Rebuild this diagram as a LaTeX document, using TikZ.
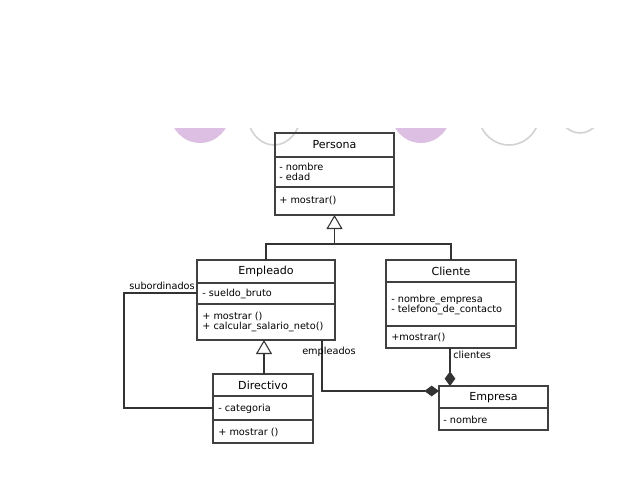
\documentclass[tikz,border=0pt]{standalone}
\usepackage{fontspec}
\setmainfont{DejaVu Sans}
\usetikzlibrary{arrows.meta}
\begin{document}
\begin{tikzpicture}[x=0.75pt,y=-0.75pt,
  box/.style={draw=black!75,line width=0.8pt,anchor=north west,inner sep=0,outer sep=0},
  ttl/.style={font=\fontsize{8.3}{10}\selectfont,anchor=center},
  txt/.style={font=\fontsize{7.3}{9}\selectfont,anchor=west,align=left,inner sep=0},
  lbl/.style={font=\fontsize{7.3}{9}\selectfont,inner sep=0},
  sep/.style={draw=black!75,line width=0.8pt},
  con/.style={draw=black!80,line width=0.8pt},
  gen/.style={con,-{Triangle[open,length=10.5pt,width=12pt]}},
  comp/.style={con,-{Diamond[length=11pt,width=8pt]}}]
\useasboundingbox (0,0) rectangle (638,478);
\fill[white] (0,0) rectangle (638,478);
\begin{scope}
\clip (0,128) rectangle (638,478);
\fill[blue!55!red!25] (200,112) ellipse (30 and 31);
\draw[gray!35,line width=1.2pt] (274,112) ellipse (27 and 33);
\fill[blue!55!red!25] (421,112) ellipse (30 and 31);
\draw[gray!35,line width=1.2pt] (509,112) ellipse (31 and 33);
\draw[gray!35,line width=1.2pt] (580,100) ellipse (25 and 33);
\end{scope}
% Persona
\node[box,minimum width=89.25pt,minimum height=61.5pt] (persona) at (275,133) {};
\node[ttl] at (334.5,145) {Persona};
\draw[sep] (275,157) -- (394,157); \draw[sep] (275,187) -- (394,187);
\node[txt] at (279,171.5) {- nombre\\[-1.5pt]- edad};
\node[txt] at (279,200) {+ mostrar()};
% Empleado
\node[box,minimum width=103.5pt,minimum height=60pt] (empleado) at (197,260) {};
\node[ttl] at (266,271) {Empleado};
\draw[sep] (197,283) -- (335,283); \draw[sep] (197,304) -- (335,304);
\node[txt] at (202,294) {- sueldo\_bruto};
\node[txt] at (202,322) {+ mostrar ()\\[-1.5pt]+ calcular\_salario\_neto()};
% Cliente
\node[box,minimum width=97.5pt,minimum height=66pt] (cliente) at (386,260) {};
\node[ttl] at (451,271) {Cliente};
\draw[sep] (386,282) -- (516,282); \draw[sep] (386,326) -- (516,326);
\node[txt] at (391,305) {- nombre\_empresa\\[-1.5pt]- telefono\_de\_contacto};
\node[txt] at (391,337.5) {+mostrar()};
% Directivo
\node[box,minimum width=75pt,minimum height=51.75pt] (directivo) at (213,374) {};
\node[ttl] at (263,385.5) {Directivo};
\draw[sep] (213,396) -- (313,396); \draw[sep] (213,420) -- (313,420);
\node[txt] at (218,408.5) {- categoria};
\node[txt] at (218,432) {+ mostrar ()};
% Empresa
\node[box,minimum width=81.75pt,minimum height=33pt] (empresa) at (439,386) {};
\node[ttl] at (493.5,397.5) {Empresa};
\draw[sep] (439,408) -- (548,408);
\node[txt] at (443,419.5) {- nombre};
% generalizations
\coordinate (j1) at (334.5,244);
\draw[con] (empleado.north -| 266,0) -- (266,244) -- (451,244) -- (cliente.north -| 451,0);
\draw[gen] (j1) -- (persona.south -| j1);
\draw[gen] (directivo.north -| 264,0) -- (empleado.south -| 264,0);
% associations
\coordinate (s1) at (124,293); \coordinate (s2) at (124,408);
\draw[con] (empleado.west |- s1) -- (s1) -- (s2) -- (directivo.west |- s2);
\node[lbl,anchor=south east] at (195,290) {subordinados};
\coordinate (e1) at (322,391);
\draw[comp] (empleado.south -| e1) -- (e1) -- (empresa.west |- e1);
\node[lbl] at (329,352) {empleados};
\draw[comp] (cliente.south -| 450,0) -- (empresa.north -| 450,0);
\node[lbl,anchor=west] at (453,355) {clientes};
\end{tikzpicture}
\end{document}
